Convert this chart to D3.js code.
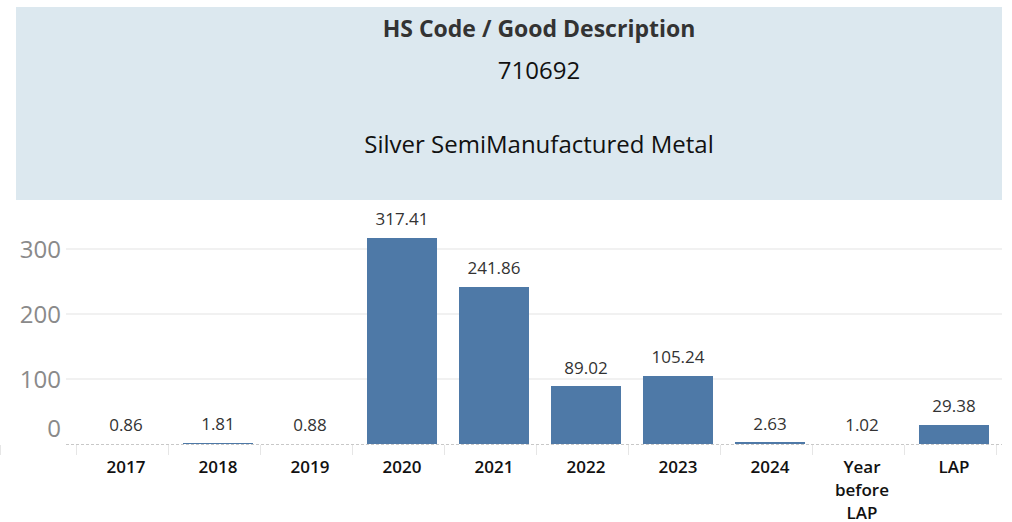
<!DOCTYPE html>
<html>
<head>
<meta charset="utf-8">
<script src="https://cdn.jsdelivr.net/npm/d3@7"></script>
<style>
  body { margin: 0; background: #fff; }
  text { font-family: "Open Sans", "Noto Sans", sans-serif; }
</style>
</head>
<body>
<div id="chart"></div>
<script>
//chart values
var categories = ["2017", "2018", "2019", "2020", "2021", "2022", "2023", "2024", "Year before LAP", "LAP"];
var values = [0.86, 1.81, 0.88, 317.41, 241.86, 89.02, 105.24, 2.63, 1.02, 29.38];
var yTicks = [0, 100, 200, 300];
var titleLines = ["710692", "Silver SemiManufactured Metal"];

var width = 1012,
    height = 522;

var svg = d3.select("#chart").append("svg")
    .attr("width", width)
    .attr("height", height);

///////////////////////////////////////////////////////////
////////////////////// Header box /////////////////////////
///////////////////////////////////////////////////////////

svg.append("rect")
    .attr("x", 16).attr("y", 7)
    .attr("width", 986).attr("height", 193)
    .attr("fill", "#dce8ef");

svg.append("text")
    .attr("x", 539).attr("y", 37)
    .attr("text-anchor", "middle")
    .style("font-size", "23px")
    .style("font-weight", "bold")
    .style("fill", "#333")
    .text("HS Code / Good Description");

svg.append("text")
    .attr("x", 539).attr("y", 79)
    .attr("text-anchor", "middle")
    .style("font-size", "24px")
    .style("fill", "#111")
    .text(titleLines[0]);

svg.append("text")
    .attr("x", 539).attr("y", 153)
    .attr("text-anchor", "middle")
    .style("font-size", "24px")
    .style("fill", "#111")
    .text(titleLines[1]);

///////////////////////////////////////////////////////////
////////////////////// Scales /////////////////////////////
///////////////////////////////////////////////////////////

var x = d3.scaleBand()
    .domain(categories)
    .range([80, 1000])
    .paddingInner(0.2391)
    .paddingOuter(0.1196);

var y = d3.scaleLinear()
    .domain([0, 300])
    .range([444, 249]);

//bar height in whole pixels, tiny values vanish like in the original
function barH(d) {
    return Math.max(0, Math.round(y(0) - y(d) - 0.2));
}

//gridlines
svg.append("g")
    .selectAll("line")
    .data(yTicks.slice(1))
    .enter().append("line")
    .attr("x1", 66).attr("x2", 1002)
    .attr("y1", function(d) { return y(d); })
    .attr("y2", function(d) { return y(d); })
    .attr("stroke", "#ececec")
    .attr("stroke-width", 1.5);

//baseline
svg.append("line")
    .attr("x1", 66).attr("x2", 1002)
    .attr("y1", y(0) + 0.5).attr("y2", y(0) + 0.5)
    .attr("stroke", "#c8c8c8")
    .attr("stroke-dasharray", "3,2");

//category separators
var seps = [0].concat(categories.map(function(d) { return x(d) - 15; }));
seps.push(x(categories[categories.length - 1]) + x.step() - 15);
svg.append("g")
    .selectAll("line")
    .data(seps)
    .enter().append("line")
    .attr("x1", function(d) { return d + 0.5; })
    .attr("x2", function(d) { return d + 0.5; })
    .attr("y1", 445).attr("y2", 455)
    .attr("stroke", "#e6e6e6");

//y axis labels
svg.append("g")
    .selectAll("text")
    .data(yTicks)
    .enter().append("text")
    .attr("x", 61)
    .attr("y", function(d) { return y(d) + (d === 0 ? -13 : 3); })
    .attr("text-anchor", "end")
    .attr("dominant-baseline", "middle")
    .style("font-size", "24px")
    .style("fill", "#8a8a8a")
    .text(function(d) { return d; });

///////////////////////////////////////////////////////////
////////////////////// Bars ///////////////////////////////
///////////////////////////////////////////////////////////

svg.append("g")
    .selectAll("rect")
    .data(values)
    .enter().append("rect")
    .attr("x", function(d, i) { return x(categories[i]); })
    .attr("y", function(d) { return y(0) - barH(d); })
    .attr("width", x.bandwidth())
    .attr("height", function(d) { return barH(d); })
    .attr("fill", "#4e79a7");

svg.append("g")
    .selectAll("text")
    .data(values)
    .enter().append("text")
    .attr("x", function(d, i) { return x(categories[i]) + x.bandwidth() / 2; })
    .attr("y", function(d) { return y(d) - 12.5; })
    .attr("text-anchor", "middle")
    .style("font-size", "17px")
    .style("fill", "#333")
    .text(function(d) { return d.toFixed(2); });

//category labels
var labels = svg.append("g")
    .selectAll("text")
    .data(categories)
    .enter().append("text")
    .attr("x", function(d) { return x(d) + x.bandwidth() / 2; })
    .attr("y", 473)
    .attr("text-anchor", "middle")
    .style("font-size", "17px")
    .style("font-weight", "600")
    .style("fill", "#111");

labels.each(function(d) {
    var words = d === "Year before LAP" ? ["Year", "before", "LAP"] : [d];
    var t = d3.select(this);
    words.forEach(function(w, k) {
        t.append("tspan")
            .attr("x", t.attr("x"))
            .attr("dy", k === 0 ? 0 : 23)
            .text(w);
    });
});
</script>
</body>
</html>
